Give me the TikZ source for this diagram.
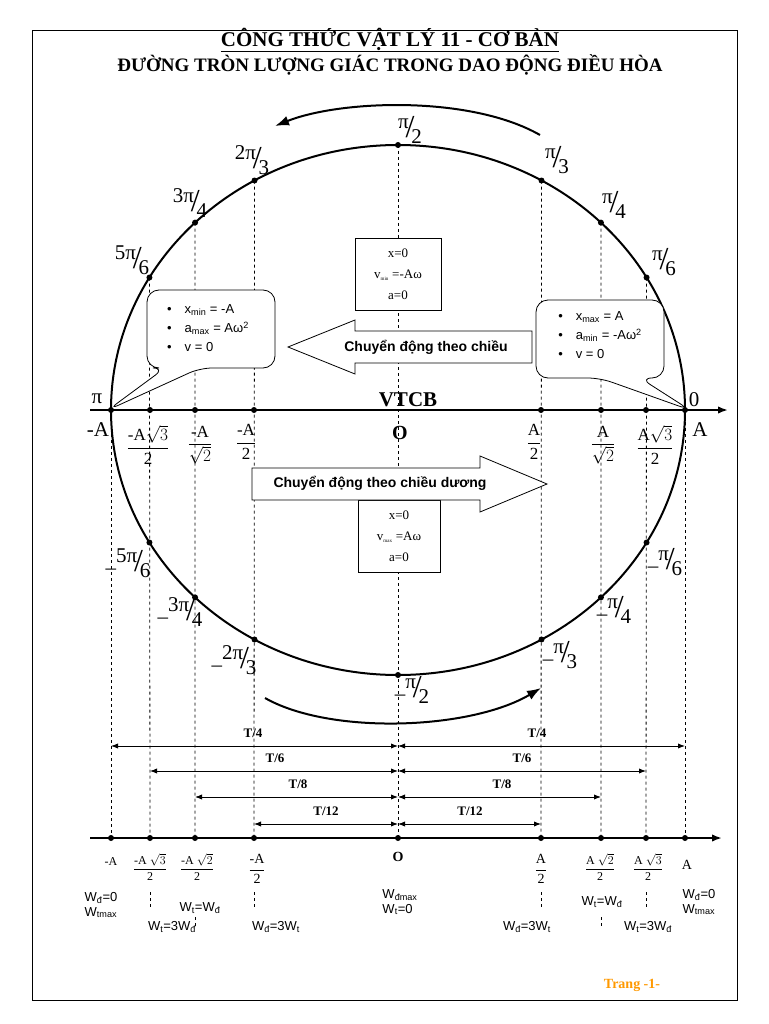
\documentclass[tikz,border=0pt]{standalone}
\usepackage{fontspec}
\setmainfont{Liberation Serif}
\setsansfont{Liberation Sans}
\usetikzlibrary{arrows.meta}
\newcommand{\fr}[2]{\raisebox{0.9ex}{#1}\kern-0.15em{\fontsize{32}{32}\selectfont/}\kern-0.15em\raisebox{-0.6ex}{#2}}
\newcommand{\mfr}[2]{\raisebox{-0.3ex}{--}\fr{#1}{#2}}
\newcommand{\vf}[2]{$\displaystyle\frac{\textrm{#1}}{\textrm{#2}}$}
\begin{document}
\begin{tikzpicture}[x=1pt,y=-1pt,
  ang/.style={font=\fontsize{21}{21}\selectfont,inner sep=0pt},
  dot/.style={circle,fill=black,inner sep=0pt,minimum size=6pt},
  dl/.style={dashed,line width=0.8pt},
  iv/.style={{Latex[length=7pt]}-{Latex[length=7pt]},line width=0.9pt},
  ivl/.style={font=\bfseries\fontsize{13}{13}\selectfont},
  ax/.style={line width=2.2pt,-{Latex[length=10pt]}},
  xl/.style={font=\fontsize{21}{21}\selectfont,inner sep=1pt},
  xf/.style={font=\fontsize{17}{17}\selectfont,inner sep=0pt},
  bx/.style={draw,line width=0.8pt,fill=white,align=center,font=\fontsize{13}{21}\selectfont},
  en/.style={font=\sffamily\fontsize{13}{15}\selectfont,align=left},
  bl/.style={line width=0.8pt,fill=white},
  bf/.style={font=\fontsize{12}{12}\selectfont,inner sep=0pt}]
\useasboundingbox (0,0) rectangle (768,1024);
\draw[line width=0.8pt] (32,30) rectangle (737,1000);
\node[font=\bfseries\fontsize{21}{21}\selectfont] (t1) at (390,40) {\underline{CÔNG THỨC VẬT LÝ 11 - CƠ BẢN}};
\node[font=\bfseries\fontsize{19}{19}\selectfont] (t2) at (390,65) {ĐƯỜNG TRÒN LƯỢNG GIÁC TRONG DAO ĐỘNG ĐIỀU HÒA};
% circle
\draw[line width=2pt] (398,410) ellipse [x radius=287, y radius=265];
\foreach \n/\a in {p0/0,p30/30,p45/45,p60/60,p90/90,p120/120,p135/135,p150/150,p180/180,m30/-30,m45/-45,m60/-60,m90/-90,m120/-120,m135/-135,m150/-150}{
  \coordinate (\n) at ({398+287*cos(\a)},{410-265*sin(\a)});
}
% dashed verticals
\foreach \n/\x in {p180/111,p150/150,p135/195,p120/254,p90/398,p60/541,p45/601,p30/646,p0/685}{
  \draw[dl] (\n) -- (\x,838) coordinate (b\n);
}
% center boxes
\node[bx,minimum width=86pt,minimum height=72pt] (bt) at (398,274) {x=0\\v\textsubscript{\tiny min} =-Aω\\a=0};
\node[bx,minimum width=82pt,minimum height=72pt] (bb) at (399,536) {x=0\\v\textsubscript{\tiny max} =Aω\\a=0};
% callouts
\draw[bl,rounded corners=12pt] (147,290) -- (275,290) -- (275,368) -- (200,368) -- (108,410) -- (165,368) -- (147,368) -- cycle;
\node[en,font=\sffamily\fontsize{13}{19}\selectfont] (cl) at (208,328) {\textbullet\quad x\textsubscript{min} = -A\\\textbullet\quad a\textsubscript{max} = Aω\textsuperscript{2}\\\textbullet\quad v = 0};
\draw[bl,rounded corners=12pt] (536,300) -- (664,300) -- (664,378) -- (640,378) -- (690,410) -- (600,378) -- (536,378) -- cycle;
\node[en,font=\sffamily\fontsize{13}{19}\selectfont] (cr) at (600,335) {\textbullet\quad x\textsubscript{max} = A\\\textbullet\quad a\textsubscript{min} = -Aω\textsuperscript{2}\\\textbullet\quad v = 0};
% big arrows
\draw[bl] (288,347) -- (355,320) -- (355,331) -- (532,331) -- (532,363) -- (355,363) -- (355,374) -- cycle;
\node[font=\sffamily\bfseries\fontsize{14}{14}\selectfont] (a1) at (426,347) {Chuyển động theo chiều};
\draw[bl] (547,484) -- (480,456) -- (480,468) -- (252,468) -- (252,500) -- (480,500) -- (480,512) -- cycle;
\node[font=\sffamily\bfseries\fontsize{14}{14}\selectfont] (a2) at (380,483) {Chuyển động theo chiều dương};
% axis
\draw[ax] (90,410) -- (728,410);
\foreach \n in {p180,p150,p135,p120,p60,p45,p30,p0,p90,m90}{\node[dot] at (\n) {};}
\foreach \x in {150,195,254,541,601,646}{\node[dot] at (\x,410) {};}
\foreach \n in {m150,m135,m120,m60,m45,m30}{\node[dot] at (\n) {};}
% angle labels
\node[ang] (l90) at (410,130) {\fr{π}{2}};
\node[ang] (l60) at (557,160) {\fr{π}{3}};
\node[ang] (l45) at (614,205) {\fr{π}{4}};
\node[ang] (l30) at (664,262) {\fr{π}{6}};
\node[ang] (l0) at (694,400) {0};
\node[ang] (l180) at (97,399) {π};
\node[ang] (l150) at (132,260) {\fr{5π}{6}};
\node[ang] (l135) at (190,203) {\fr{3π}{4}};
\node[ang] (l120) at (252,160) {\fr{2π}{3}};
\node[ang] (lm150) at (128,563) {\mfr{5π}{6}};
\node[ang] (lm135) at (180,612) {\mfr{3π}{4}};
\node[ang] (lm120) at (234,660) {\mfr{2π}{3}};
\node[ang] (lm90) at (412,690) {\mfr{π}{2}};
\node[ang] (lm60) at (560,655) {\mfr{π}{3}};
\node[ang] (lm45) at (614,610) {\mfr{π}{4}};
\node[ang] (lm30) at (665,562) {\mfr{π}{6}};
% axis labels
\node[xl] (xA1) at (98,430) {-A};
\node[xl] (xA2) at (700,430) {A};
\node[xf] (x1) at (148,445) {\vf{-A$\sqrt3$}{2}};
\node[xf] (x2) at (200,445) {\vf{-A}{$\sqrt2$}};
\node[xf] (x3) at (246,442) {\vf{-A}{2}};
\node[xf] (x4) at (534,442) {\vf{A}{2}};
\node[xf] (x5) at (603,445) {\vf{A}{$\sqrt2$}};
\node[xf] (x6) at (655,445) {\vf{A$\sqrt3$}{2}};
\node[font=\bfseries\fontsize{21}{21}\selectfont] (vtcb) at (408,400) {VTCB};
\node[font=\bfseries\fontsize{20}{20}\selectfont] (O) at (400,433) {O};
% rotation arrows
\draw[line width=2pt,-{Latex[length=14pt,width=10pt]}] (540,135) .. controls (470,95) and (340,100) .. (275,126);
\draw[line width=2pt,-{Latex[length=14pt,width=10pt]}] (265,698) .. controls (330,735) and (470,730) .. (541,688);
% intervals
\foreach \y/\l/\r/\t/\lx/\rx in {746/111/685/T\slash4/253/537,771/150/646/T\slash6/275/522,797/195/601/T\slash8/298/502,824/254/541/T\slash12/326/470}{
  \draw[iv] (\l,\y) -- (398,\y);
  \draw[iv] (398,\y) -- (\r,\y);
  \node[ivl] at (\lx,\y-13) {\t};
  \node[ivl] at (\rx,\y-13) {\t};
}
% bottom axis
\draw[ax] (90,838) -- (722,838);
\foreach \x in {111,150,195,254,398,541,601,646,685}{\node[dot] at (\x,838) {};}
\node[bf] (y1) at (111,862) {-A};
\node[bf] (y2) at (150,867) {\vf{-A $\sqrt3$}{2}};
\node[bf] (y3) at (197,867) {\vf{-A $\sqrt2$}{2}};
\node[bf,font=\fontsize{14}{14}\selectfont] (y4) at (257,869) {\vf{-A}{2}};
\node[font=\bfseries\fontsize{14}{14}\selectfont] (y5) at (398,857) {O};
\node[bf,font=\fontsize{14}{14}\selectfont] (y6) at (541,869) {\vf{A}{2}};
\node[bf] (y7) at (600,867) {\vf{A $\sqrt2$}{2}};
\node[bf] (y8) at (648,867) {\vf{A $\sqrt3$}{2}};
\node[bf,font=\fontsize{14}{14}\selectfont] (y9) at (687,865) {A};
% small dashed marks
\foreach \x/\a/\b in {150/892/908,254/892/908,541/892/908,646/892/908,195/917/928,601/917/928}{\draw[dl] (\x,\a) -- (\x,\b);}
% energy
\node[en] (e1) at (101,905) {W\textsubscript{đ}=0\\W\textsubscript{tmax}};
\node[en] (e2) at (172,927) {W\textsubscript{t}=3W\textsubscript{đ}};
\node[en] (e3) at (200,908) {W\textsubscript{t}=W\textsubscript{đ}};
\node[en] (e4) at (276,927) {W\textsubscript{đ}=3W\textsubscript{t}};
\node[en] (e5) at (400,902) {W\textsubscript{đmax}\\W\textsubscript{t}=0};
\node[en] (e6) at (527,927) {W\textsubscript{đ}=3W\textsubscript{t}};
\node[en] (e7) at (602,902) {W\textsubscript{t}=W\textsubscript{đ}};
\node[en] (e8) at (648,927) {W\textsubscript{t}=3W\textsubscript{đ}};
\node[en] (e9) at (699,902) {W\textsubscript{đ}=0\\W\textsubscript{tmax}};
\node[font=\bfseries\fontsize{14}{14}\selectfont,text={rgb,255:red,255;green,153;blue,0}] (pg) at (632,985) {Trang -1-};
\end{tikzpicture}
\end{document}
